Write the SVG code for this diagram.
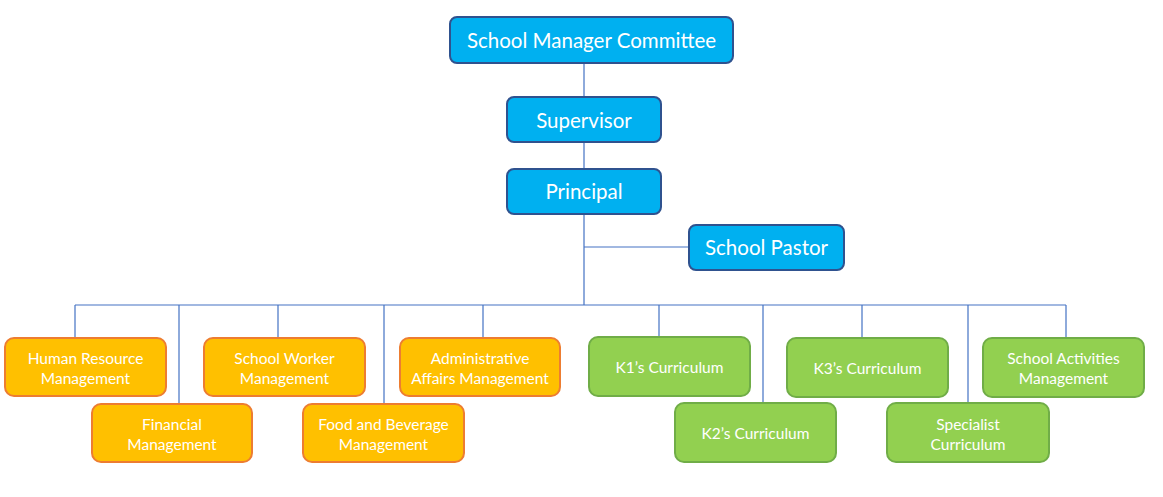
<svg xmlns="http://www.w3.org/2000/svg" width="1163" height="497" viewBox="0 0 1163 497">
<style>
.blue rect{fill:#00B0F0;stroke:#2F528F;stroke-width:2}
.orange rect{fill:#FFC000;stroke:#ED7D31;stroke-width:2}
.green rect{fill:#92D050;stroke:#70AD47;stroke-width:2}
text{font-family:Lato,"Liberation Sans",sans-serif;fill:#fff;text-anchor:middle}
.blue text{font-size:20.5px}
.orange text,.green text{font-size:15.5px}
#connectors path{fill:none;stroke:#4472C4;stroke-width:1.2}
</style>
<rect width="1163" height="497" fill="#fff"/>
<g id="connectors">
<path d="M584 63V305M584 247H689M75 305H1066"/>
<path d="M75 305V338M179 305V404M278 305V338M384 305V404M483 305V338M659 305V337M763 305V403M862 305V338M968 305V403M1066 305V338"/>
</g>
<g id="smc" class="blue"><rect x="450" y="17" width="283" height="46" rx="7"/><text x="591.5" y="48">School Manager Committee</text></g>
<g id="supervisor" class="blue"><rect x="507" y="97" width="154" height="45" rx="7"/><text x="584" y="128">Supervisor</text></g>
<g id="principal" class="blue"><rect x="507" y="169" width="154" height="45" rx="7"/><text x="584" y="199">Principal</text></g>
<g id="pastor" class="blue"><rect x="689" y="225" width="155" height="45" rx="7"/><text x="766.5" y="255">School Pastor</text></g>
<g id="hr" class="orange"><rect x="5" y="338" width="161" height="58" rx="9"/><text x="85.5" y="364">Human Resource</text><text x="85.5" y="384">Management</text></g>
<g id="fin" class="orange"><rect x="92" y="404" width="160" height="58" rx="9"/><text x="172" y="430">Financial</text><text x="172" y="450">Management</text></g>
<g id="sw" class="orange"><rect x="204" y="338" width="161" height="58" rx="9"/><text x="284.5" y="364">School Worker</text><text x="284.5" y="384">Management</text></g>
<g id="fb" class="orange"><rect x="303" y="404" width="161" height="58" rx="9"/><text x="383.5" y="430">Food and Beverage</text><text x="383.5" y="450">Management</text></g>
<g id="admin" class="orange"><rect x="400" y="338" width="160" height="58" rx="9"/><text x="480" y="364">Administrative</text><text x="480" y="384">Affairs Management</text></g>
<g id="k1" class="green"><rect x="589" y="337" width="161" height="59" rx="9"/><text x="669.5" y="373">K1’s Curriculum</text></g>
<g id="k2" class="green"><rect x="675" y="403" width="161" height="59" rx="9"/><text x="755.5" y="439">K2’s Curriculum</text></g>
<g id="k3" class="green"><rect x="787" y="338" width="161" height="59" rx="9"/><text x="867.5" y="374">K3’s Curriculum</text></g>
<g id="spec" class="green"><rect x="887" y="403" width="162" height="59" rx="9"/><text x="968" y="430">Specialist</text><text x="968" y="450">Curriculum</text></g>
<g id="act" class="green"><rect x="983" y="338" width="161" height="59" rx="9"/><text x="1063.5" y="364">School Activities</text><text x="1063.5" y="384">Management</text></g>
</svg>
